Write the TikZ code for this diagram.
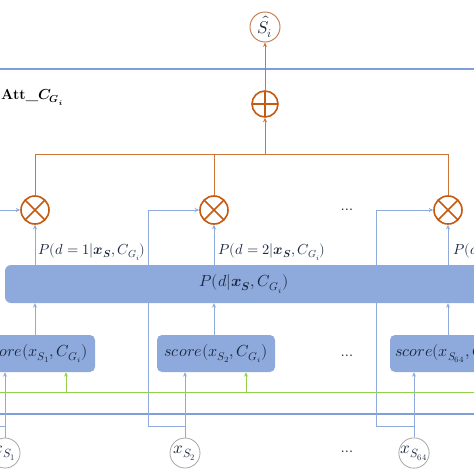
\documentclass[tikz,border=0pt]{standalone}
\usepackage{amsmath}
\usepackage{unicode-math}
\setmathfont{Latin Modern Math}
\usetikzlibrary{arrows.meta}
\definecolor{bfill}{HTML}{8EA9DB}
\definecolor{lblue}{HTML}{8FAADC}
\definecolor{fblue}{HTML}{7F9FD6}
\definecolor{orng}{HTML}{C55A11}
\definecolor{orl}{HTML}{D07538}
\definecolor{lbrown}{HTML}{C8825A}
\definecolor{grn}{HTML}{92D050}
\definecolor{gcirc}{HTML}{A6A6A6}
\definecolor{txt}{HTML}{1A2740}
\newcommand{\bxs}{\symbfit{x}_{\symbfit{S}}}
\begin{document}
\begin{tikzpicture}[x=1pt,y=-1pt,
  ln/.style={draw=lblue, line width=1pt},
  arr/.style={-{Stealth[length=4.5pt,width=4pt]}},
  orline/.style={draw=orl, line width=1pt},
  grl/.style={draw=grn, line width=1pt},
  opnode/.style={circle, draw=orng, fill=white, line width=1.6pt, minimum size=28pt, inner sep=0pt},
  timesnode/.style={opnode, path picture={\draw[orng,line width=1.6pt]
     (path picture bounding box.north west)--(path picture bounding box.south east)
     (path picture bounding box.north east)--(path picture bounding box.south west);}},
  plusnode/.style={opnode, minimum size=26pt, path picture={\draw[orng,line width=1.6pt]
     (path picture bounding box.north)--(path picture bounding box.south)
     (path picture bounding box.east)--(path picture bounding box.west);}},
  xnode/.style={circle, draw=gcirc, fill=white, line width=0.8pt, minimum size=30pt, inner sep=0pt, text=txt, font=\fontsize{17}{19}\selectfont},
  scorebox/.style={rectangle, rounded corners=5pt, fill=bfill, minimum width=118pt, minimum height=37pt, inner sep=0pt, text=txt, font=\fontsize{16}{18}\selectfont},
  plabel/.style={anchor=west, inner sep=0pt, text=txt, font=\fontsize{14.5}{16}\selectfont},
  dotsnode/.style={inner sep=0pt, text=txt, font=\fontsize{15}{17}\selectfont}
]
\useasboundingbox (0,0) rectangle (474,474);
\clip (0,0) rectangle (474,474);

% frame
\draw[draw=fblue, line width=1.6pt, rounded corners=8pt] (-30,69) rectangle (504,414);
\node[anchor=west, inner sep=0pt, text=black, font=\fontsize{14.5}{16}\selectfont] (att) at (1,97) {\textbf{Att\_}$\symbfit{C}_{\symbfit{G}_{\symbfit{i}}}$};

% output
\node[circle, draw=lbrown, fill=white, line width=1pt, minimum size=30pt, inner sep=0pt, text=txt, font=\fontsize{17}{19}\selectfont] (S) at (265,27) {$\hat{S}_i$};
\node[plusnode] (plus) at (265,104) {};

% multiply nodes
\node[timesnode] (m1) at (35,210) {};
\node[timesnode] (m2) at (214,210) {};
\node[timesnode] (m3) at (448,210) {};

% P box
\node[rectangle, rounded corners=6pt, fill=bfill, minimum width=478pt, minimum height=38pt, inner sep=0pt, text=txt, font=\fontsize{16}{18}\selectfont] (P) at (244,284) {$P(d|\bxs,C_{G_i})$};

% score boxes
\node[scorebox] (sc1) at (36,353.5) {$score(x_{S_1},C_{G_i})$};
\node[scorebox] (sc2) at (216,353.5) {$score(x_{S_2},C_{G_i})$};
\node[scorebox] (sc3) at (449,353.5) {$score(x_{S_{64}},C_{G_i})$};

% inputs
\node[xnode] (x1) at (5,453) {$x_{S_1}$};
\node[xnode] (x2) at (185,453) {$x_{S_2}$};
\node[xnode] (x3) at (414,453) {$x_{S_{64}}$};

% dots
\node[dotsnode] (d1) at (347,211) {$\cdots$};
\node[dotsnode] (d2) at (347,357) {$\cdots$};
\node[dotsnode] (d3) at (347,453) {$\cdots$};

% labels
\node[plabel] (l1) at (38,252) {$P(d=1|\bxs,C_{G_i})$};
\node[plabel] (l2) at (218,252) {$P(d=2|\bxs,C_{G_i})$};
\node[plabel] (l3) at (453,252) {$P(d=64|\bxs,C_{G_i})$};

% coordinates
\coordinate (bus1) at (35,154);
\coordinate (bus2) at (214,154);
\coordinate (bus3) at (448,154);
\coordinate (busc) at (265,154);
\coordinate (g0) at (-5,392);
\coordinate (g1) at (66,392);
\coordinate (g2) at (246,392);
\coordinate (g3) at (479,392);
\coordinate (gend) at (480,392);
\coordinate (b1) at (-25,426);
\coordinate (b2) at (148,426);
\coordinate (b3) at (376,426);

% orange connectors
\draw[orline] (m1.north) -- (bus1) -- (bus3) -- (m3.north);
\draw[orline] (m2.north) -- (bus2);
\draw[orline, arr] (busc) -- (plus.south);
\draw[orline, arr] (plus.north) -- (S.south);

% P box to multiply
\draw[ln, arr] (P.north -| m1) -- (m1.south);
\draw[ln, arr] (P.north -| m2) -- (m2.south);
\draw[ln, arr] (P.north -| m3) -- (m3.south);

% score to P box
\draw[ln, arr] (sc1.north -| m1) -- (P.south -| m1);
\draw[ln, arr] (sc2.north -| m2) -- (P.south -| m2);
\draw[ln, arr] (sc3.north -| m3) -- (P.south -| m3);

% inputs to score
\draw[ln, arr] (x1.north) -- (x1.north |- sc1.south);
\draw[ln, arr] (x2.north) -- (x2.north |- sc2.south);
\draw[ln, arr] (x3.north) -- (x3.north |- sc3.south);

% branches to multiply
\draw[ln, arr] (x1 |- b1) -- (b1) -- (b1 |- m1) -- (m1.west);
\draw[ln, arr] (x2 |- b2) -- (b2) -- (b2 |- m2) -- (m2.west);
\draw[ln, arr] (x3 |- b3) -- (b3) -- (b3 |- m3) -- (m3.west);

% green context line
\draw[grl] (g0) -- (gend);
\draw[grl, arr] (g1) -- (g1 |- sc1.south);
\draw[grl, arr] (g2) -- (g2 |- sc2.south);
\draw[grl, arr] (g3) -- (g3 |- sc3.south);
\end{tikzpicture}
\end{document}
